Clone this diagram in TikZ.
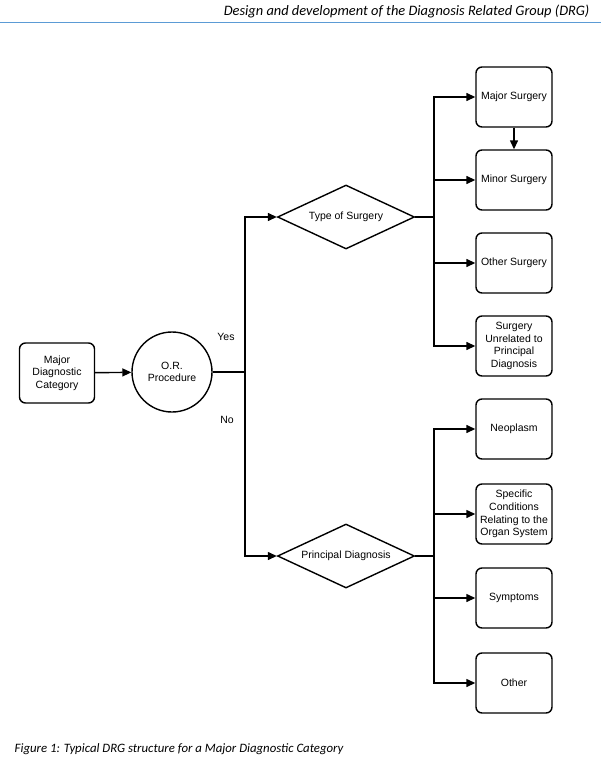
\documentclass[tikz,border=0pt]{standalone}
\usepackage{fontspec}
\setmainfont{Liberation Sans}
\newfontfamily\capfont{Carlito}
\usetikzlibrary{arrows.meta,shapes.geometric}
\definecolor{rulecol}{RGB}{91,155,213}
\tikzset{
  box/.style={draw,rounded corners=6pt,minimum width=76pt,minimum height=60pt,
    align=center,inner sep=1pt,font=\fontsize{10.5}{12.7}\selectfont},
  test/.style={draw,diamond,aspect=2.14,minimum width=137pt,minimum height=64pt,inner sep=0pt,
    font=\fontsize{10.5}{12.7}\selectfont},
  lbl/.style={font=\fontsize{10.5}{12.7}\selectfont},
  captext/.style={font=\capfont\itshape\fontsize{14.4}{17}\selectfont}
}
\begin{document}
\begin{tikzpicture}[x=1pt,y=-1pt,>={Triangle[length=9pt,width=8pt]},line width=1.4pt]
\useasboundingbox (0,0) rectangle (601,768);
\node[captext,anchor=base east,inner sep=0pt] (head) at (590,16) {Design and development of the Diagnosis Related Group (DRG)};
\draw[rulecol,line width=1pt](0,23)--(601,23);
\node[box,minimum width=75pt] (mdc) at (57,373) {Major\\Diagnostic\\Category};
\node[draw,circle,minimum size=80pt,align=center,inner sep=0pt,font=\fontsize{10.5}{12.7}\selectfont] (or) at (172,372) {O.R.\\Procedure};
\node[test] (tos) at (346,217) {Type of Surgery};
\node[test] (pd) at (346,556) {Principal Diagnosis};
\node[box] (maj) at (514,97) {Major Surgery};
\node[box] (min) at (514,180) {Minor Surgery};
\node[box] (oth) at (514,263) {Other Surgery};
\node[box] (unr) at (514,346) {Surgery\\Unrelated to\\Principal\\Diagnosis};
\node[box] (neo) at (514,429) {Neoplasm};
\node[box] (spc) at (514,514) {Specific\\Conditions\\Relating to the\\Organ System};
\node[box] (sym) at (514,598) {Symptoms};
\node[box] (otr) at (514,683) {Other};
\node[lbl] (yes) at (226,337) {Yes};
\node[lbl] (no) at (227,420) {No};
\coordinate (ja) at (245,372);
\coordinate (jb) at (434,217);
\coordinate (jc) at (434,556);
\draw[->](mdc)--(or);
\draw(or)--(ja);
\draw[->](ja)|-(tos);
\draw[->](ja)|-(pd);
\draw(tos)--(jb);
\draw(pd)--(jc);
\foreach \n in {maj,min,oth,unr} \draw[->](jb)|-(\n);
\foreach \n in {neo,spc,sym,otr} \draw[->](jc)|-(\n);
\draw[->](maj)--(min);
\node[captext,anchor=base west,inner sep=0pt,font=\capfont\itshape\fontsize{12.8}{15}\selectfont] (fig) at (14,752) {Figure 1: Typical DRG structure for a Major Diagnostic Category};
\end{tikzpicture}
\end{document}
